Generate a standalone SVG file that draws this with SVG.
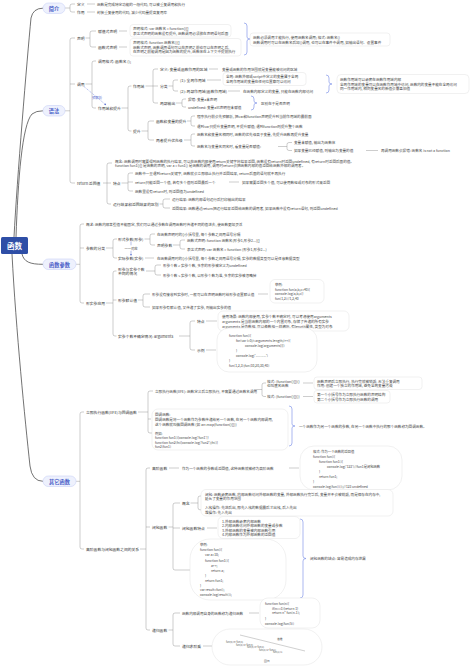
<svg xmlns="http://www.w3.org/2000/svg" width="474" height="666" viewBox="0 0 474 666">
<defs>
<style>
text{font-family:"Noto Sans CJK SC","Noto Sans",sans-serif;dominant-baseline:central}
.l{font-size:3.8px;fill:#333}
.t{font-size:3.6px;fill:#444}
.c{font-size:3.3px;fill:#444}
.s{font-size:2.4px;fill:#555}
.p{font-size:5.2px;font-weight:700;fill:#4b5fc8;text-anchor:middle}
.r{font-size:7.5px;font-weight:700;fill:#fff;text-anchor:middle}
.pill{fill:#eef1fd;stroke:#c9d2f6;stroke-width:0.6}
.ln{fill:none;stroke:#8f8f8f;stroke-width:0.45}
.rt{fill:none;stroke:#444;stroke-width:0.75}
.br{fill:none;stroke:#7288e6;stroke-width:0.6}
.bx{fill:#fff;stroke:#e0e0e0;stroke-width:0.45}
.rel{fill:none;stroke:#6b80e0;stroke-width:0.5;stroke-dasharray:1.2 0.8}
.ar{fill:none;stroke:#5a6fcf;stroke-width:0.45}
</style>
<marker id="ah" viewBox="0 0 6 6" refX="5" refY="3" markerWidth="4" markerHeight="4" orient="auto"><path d="M0 0L6 3L0 6z" fill="#5a6fcf"/></marker>
</defs>
<rect width="474" height="666" fill="#fff"/>

<g id="connectors">
<path class="rt" d="M14 237 C17 180 27 60 31 18 Q33 8.2 43 8.2"/>
<path class="rt" d="M16 237 C18 180 22 125 32 114 Q36 110.8 43 110.8"/>
<path class="rt" d="M22 254 C24 262 30 264.3 43 264.3"/>
<path class="rt" d="M12 254 C16 330 25 420 30 466 Q32 481.3 43 481.3"/>
<path class="ln" d="M65 8 H70 M75 4 H72 Q70 4 70 6 V10 Q70 12 72 12 H75 M87 4 H95 M87 12 H95"/>
<path class="ln" d="M65 110.8 H70 M75 38 H72 Q70 38 70 40 V181 Q70 183 72 183 H75 M70 84 H75"/>
<path class="ln" d="M85.5 38 H90 M96 31 H92 Q90 31 90 33 V45 Q90 47 92 47 H96 M119 31 H127 M119 47 H127"/>
<path class="br" d="M244 23 Q247 23 247 26 V37 Q247 39 250 39 Q247 39 247 41 V52 Q247 55 244 55"/>
<path class="ln" d="M85.5 84 H92 M96 61 H94 Q92 61 92 63 V106 Q92 108 94 108 H96"/>
<path class="rel" d="M84 86.5 L106 105" marker-end="url(#ah)"/>
<path class="ln" d="M121.5 108 H128 M131.5 86 H130 Q128 86 128 88 V129 Q128 131 130 131 H131.5"/>
<path class="ln" d="M145.5 86 H153 M158 69 H155 Q153 69 153 71 V101 Q153 103 155 103 H158 M153 86 H158 M209 69 H218"/>
<path class="ln" d="M168.5 86 H173 M178 80 H175 Q173 80 173 82 V89 Q173 91 175 91 H178 M207 80 H221 M228 91 H240"/>
<path class="br" d="M326 75 Q329 75 329 78 V82 Q329 84 332 84 Q329 84 329 86 V90 Q329 93 326 93"/>
<path class="ln" d="M176 103 H182 M186 99 H184 Q182 99 182 101 V105 Q182 107 184 107 H186"/>
<path class="br" d="M251 96 Q254 96 254 99 V101 Q254 103 257 103 Q254 103 254 105 V107 Q254 110 251 110"/>
<path class="ln" d="M141.5 131 H148 M154 121 H150 Q148 121 148 123 V138 Q148 140 150 140 H154"/>
<path class="ln" d="M187 121 H191 M195 116 H193 Q191 116 191 118 V124 Q191 126 193 126 H195"/>
<path class="ln" d="M184 140 H191 M195 134 H193 Q191 134 191 136 V144 Q191 146 193 146 H195"/>
<path class="ln" d="M278 146.5 H287 M292 142.5 H289 Q287 142.5 287 144.5 V148.5 Q287 150.5 289 150.5 H292 M366 150.5 H378"/>
<path class="ln" d="M103 183 H107 M112 163 H109 Q107 163 107 165 V202 Q107 204 109 204 H111 M107 183 H111"/>
<path class="ln" d="M121.5 183 H128 M133 173 H130 Q128 173 128 175 V189 Q128 191 130 191 H133 M128 182 H133 M229 182 H239"/>
<path class="ln" d="M159.5 204 H163 M170 199 H165 Q163 199 163 201 V206 Q163 208 165 208 H170"/>
<path class="ln" d="M76 264.3 H80 M84 224 H82 Q80 224 80 226 V301 Q80 303 82 303 H84 M80 248 H84"/>
<path class="ln" d="M106 248 H113 M117 239 H115 Q113 239 113 241 V256 Q113 258 115 258 H117"/>
<path class="ln" d="M144.5 239 H150 M155 234 H152 Q150 234 150 236 V243 Q150 245 152 245 H155"/>
<path class="ln" d="M173 245 H180 M185 240 H182 Q180 240 180 242 V247 Q180 249 182 249 H185 M145 258 H154"/>
<path class="ar" d="M131 241.5 V245.3 M131 250.8 V255.5" marker-end="url(#ah)"/>
<path class="ln" d="M106 303 H113 M116.5 271 H115 Q113 271 113 273 V334 Q113 336 115 336 H116.5 M113 300 H116.5"/>
<path class="ln" d="M146 271 H155 M161 265 H157 Q155 265 155 267 V273 Q155 275 157 275 H161"/>
<path class="ln" d="M138 300 H143 M150 294 H145 Q143 294 143 296 V305 Q143 307 145 307 H150 M258 294 H268"/>
<path class="ln" d="M179 336 H190 M195 321 H192 Q190 321 190 323 V348 Q190 350 192 350 H195 M206 321 H217 M206 350 H216"/>
<path class="ln" d="M76 481.3 H80 M84 412 H82 Q80 412 80 414 V547 Q80 549 82 549 H84"/>
<path class="ln" d="M138 412 H148 M153 391 H150 Q148 391 148 393 V431 Q148 433 150 433 H153 M148 419 H151"/>
<path class="ln" d="M254 389.5 H262 M266 383 H264 Q262 383 262 385 V394.5 Q262 396.5 264 396.5 H266 M303 383 H313 M303 396.5 H313"/>
<path class="br" d="M289 406 Q292 406 292 409 V424 Q292 426 295 426 Q292 426 292 428 V443 Q292 446 289 446"/>
<path class="ln" d="M140 549 H146 M150 468 H148 Q146 468 146 470 V628 Q146 630 148 630 H150 M146 527 H150"/>
<path class="ln" d="M169 468 H179 M289 468 H299"/>
<path class="ln" d="M168.5 527 H173 M180 503 H175 Q173 503 173 505 V568 Q173 570 175 570 H190 M173 528 H180"/>
<path class="ln" d="M190.5 503 H198 M203 496 H200 Q198 496 198 498 V507.8 Q198 509.8 200 509.8 H203 M207 528 H217"/>
<path class="br" d="M300 519 Q303 519 303 522 V556 Q303 558.5 306 558.5 Q303 558.5 303 561 V595 Q303 598 300 598"/>
<path class="ln" d="M168.5 630 H173 M180 613 H175 Q173 613 173 615 V644 Q173 646 175 646 H180 M249 613 H259 M203 646 H212"/>
<text x="97" y="97" text-anchor="middle" style="font-size:3.4px;fill:#5a6fcf">预解析</text>
<text x="131" y="248" text-anchor="middle" style="font-size:3.3px;fill:#333">一一对应</text>
</g>

<g id="n-root"><rect x="1" y="237" width="27" height="17" rx="1.5" fill="#2e4ea6"/><text class="r" x="14.5" y="245.5">函数</text></g>

<g id="n-jianjie"><rect class="pill" x="43" y="3" width="22" height="10.5" rx="5.25"/><text class="p" x="54" y="8.2">简介</text></g>
<g id="n-dingyi"><text class="l" x="77" y="4">定义</text><text class="t" x="97" y="4">函数是完成特定功能的一段代码, 可以被重复调用和执行</text></g>
<g id="n-zuoyong"><text class="l" x="77" y="12">作用</text><text class="t" x="97" y="12">封装重复使用的代码, 减少代码量提高复用率</text></g>

<g id="n-yufa"><rect class="pill" x="43" y="105.5" width="22" height="10.5" rx="5.25"/><text class="p" x="54" y="110.8">语法</text></g>
<g id="n-shengming"><text class="l" x="77" y="38">声明</text></g>
<g id="n-fuzhi"><text class="l" x="98" y="31">赋值式声明</text>
<rect class="bx" x="130" y="24.5" width="101" height="12.5" rx="3"/>
<text class="t" x="133" y="28.3">声明格式: var 函数名 = function(){}</text>
<text class="t" x="133" y="33.2">表达式声明的函数没有提升, 函数调用必须放在声明语句后面</text></g>
<g id="n-hanshushi"><text class="l" x="98" y="47">函数式声明</text>
<rect class="bx" x="130" y="38.5" width="111" height="17.5" rx="3"/>
<text class="t" x="133" y="42.5">声明格式: function 函数名(){}</text>
<text class="t" x="133" y="47.2">函数式声明, 函数调用语句可以在声明之前也可以在声明之后,</text>
<text class="t" x="133" y="51.9">在声明之前能调用是因为函数的提升, 函数体在上下文中提前执行</text></g>
<g id="n-shengming-note"><rect class="bx" x="250" y="33" width="140" height="13" rx="3"/>
<text class="t" x="253" y="37.1">函数必须调用才能执行, 使用函数名调用; 格式: 函数名()</text>
<text class="t" x="253" y="42">函数调用时可以在函数名后加()调用, 也可以在事件中调用, 如输出语句、设置事件</text></g>

<g id="n-diaoyong"><text class="l" x="77" y="84">调用</text></g>
<g id="n-geshi"><text class="l" x="98" y="61">调用格式: 函数名 ();</text></g>
<g id="n-zyts"><text class="l" x="98" y="108">作用域和提升</text></g>
<g id="n-zuoyongyu"><text class="l" x="133" y="86">作用域</text></g>
<g id="n-zyy-dy"><text class="l" x="160" y="69">定义: 变量或函数作用的区域</text><text class="t" x="222" y="69">变量或函数的作用范围就是变量能被访问的区域</text></g>
<g id="n-fenlei"><text class="l" x="160" y="86">分类</text></g>
<g id="n-quanju"><text class="l" x="180" y="80">(1): 全局作用域</text>
<rect class="bx" x="223" y="72.5" width="83" height="13" rx="3"/>
<text class="t" x="226" y="76.8">全局: 函数外部或script中定义的变量属于全局</text>
<text class="t" x="226" y="81.6">全局作用域的变量在任何位置都可以访问</text></g>
<g id="n-jubu"><text class="l" x="180" y="91">(2): 局部作用域(函数作用域)</text><text class="t" x="243" y="91">在函数内部定义的变量, 只能在函数内部访问</text></g>
<g id="n-fenlei-note"><rect class="bx" x="337" y="74.5" width="132" height="19" rx="4"/>
<text class="t" x="340" y="79.5">函数作用域可以嵌套在函数作用域内部</text>
<text class="t" x="340" y="84">全局作用域的变量可以在函数作用域中访问, 函数内的变量不能在全局访问</text>
<text class="t" x="340" y="88.5">同一作用域内, 相同变量名的新值会覆盖旧值</text></g>
<g id="n-jubushuchu"><text class="l" x="160" y="103">局部输出</text>
<text class="t" x="188" y="99">报错: 变量a未声明</text>
<text class="t" x="188" y="107">undefined: 变量a已声明但未赋值</text>
<text class="t" x="261" y="103">区别在于是否声明</text></g>
<g id="n-tisheng"><text class="l" x="133" y="131">提升</text></g>
<g id="n-hbts"><text class="l" x="156" y="121">函数和变量的提升</text>
<text class="t" x="197" y="116">程序执行前会先预解析, 把var和function声明提升到当前作用域的最前面</text>
<text class="t" x="197" y="126">遇到var只提升变量声明, 不提升赋值; 遇到function则提升整个函数</text></g>
<g id="n-yxj"><text class="l" x="156" y="140">两者提升优先级</text>
<text class="t" x="197" y="134">函数名和变量名相同时, 函数的优先级高于变量, 先提升函数再提升变量</text>
<text class="t" x="197" y="146.5">函数名与变量名同名时, 看变量是否赋值:</text>
<text class="t" x="294" y="142.5">变量未赋值, 输出为函数体</text>
<text class="t" x="294" y="150.5">如果变量已经赋值, 则输出为变量的值</text>
<text class="t" x="381" y="150.5">再调用函数会报错: 函数名 is not a function</text></g>

<g id="n-return"><text class="l" x="77" y="183">return 返回值</text></g>
<g id="n-ret-gn"><text class="t" x="115" y="161">概念: 函数调用时需要得到函数的执行结果, 可以在函数内部使用return关键字将结果返回, 函数没有return时返回undefined, 有return时返回后面的值。</text>
<text class="t" x="115" y="165.5">function fun1(){} 是函数的声明, var a = fun1() 是函数的调用, 调用时return会把函数内部的值返回给函数外部的调用者。</text></g>
<g id="n-ret-td"><text class="l" x="113" y="183">特点</text>
<text class="t" x="135" y="173">函数中一旦遇到return关键字, 函数就会立即停止执行并返回结果, return后面的语句就不再执行</text>
<text class="t" x="135" y="182">return只能返回一个值, 若有多个值则返回最后一个</text>
<text class="t" x="242" y="182">如果需要返回多个值, 可以使用数组或对象的形式来返回</text>
<text class="t" x="135" y="191">函数里没有return时, 则返回值为undefined</text></g>
<g id="n-ret-qb"><text class="l" x="113" y="204">运行结果和返回结果的区别</text>
<text class="t" x="172" y="199">运行结果: 函数内部语句运行后打印输出的结果</text>
<text class="t" x="172" y="208">返回结果: 函数通过return把运行结果返回给函数的调用者, 如果函数中没有return语句, 则返回undefined</text></g>

<g id="n-canshu"><rect class="pill" x="43" y="259" width="33" height="10.5" rx="5.25"/><text class="p" x="59.5" y="264.3">函数参数</text></g>
<g id="n-gaishu"><text class="t" x="86" y="224">概述: 函数内部某些值不能固定, 我们可以通过参数在调用函数时传递不同的值进去, 使函数更加灵活</text></g>
<g id="n-fenlei2"><text class="l" x="86" y="248">参数的分类</text></g>
<g id="n-xingcan"><text class="l" x="118" y="239">形式参数(形参)</text>
<text class="t" x="157" y="234">在函数声明时的()小括号里, 每个参数之间用逗号分隔</text>
<text class="l" x="157" y="245">声明参数</text>
<text class="t" x="187" y="240">函数式声明: function 函数名(形参1,形参2...){}</text>
<text class="t" x="187" y="249">表达式声明: var 函数名 = function (形参1,形参2...)</text></g>
<g id="n-shican"><text class="l" x="118" y="258">实际参数(实参)</text>
<text class="t" x="157" y="258">在函数调用时的()小括号里, 每个参数之间用逗号分隔, 实参的数据类型可以是任意数据类型</text></g>
<g id="n-yingyong"><text class="l" x="86" y="303">形实参应用</text></g>
<g id="n-geshu"><text class="l" x="118" y="269">形参与实参个数</text><text class="l" x="118" y="273.5">不同的情况</text>
<text class="t" x="163" y="265">形参个数 &gt; 实参个数, 多余的形参被定义为undefined</text>
<text class="t" x="163" y="275">形参个数 &lt; 实参个数, 以形参个数为准, 多余的实参被忽略掉</text></g>
<g id="n-moren"><text class="l" x="118" y="300">形参默认值</text>
<text class="t" x="152" y="294">形参没有接收到实参时, 一般可以在声明函数时给形参设置默认值</text>
<text class="t" x="152" y="307">如果形参有默认值, 又传递了实参, 则输出实参的值</text>
<rect class="bx" x="270" y="279.5" width="54" height="23.5" rx="5"/>
<text class="c" x="275" y="284.3">举例:</text>
<text class="c" x="275" y="289">function fun(a,b,c=40){</text>
<text class="c" x="275" y="293.7">console.log(a,b,c)}</text>
<text class="c" x="275" y="298.4">fun(1,2)//1,2,40</text></g>
<g id="n-arguments"><text class="l" x="118" y="336">实参个数不确定情况: arguments</text></g>
<g id="n-arg-td"><text class="l" x="197" y="321">特点</text>
<rect class="bx" x="218" y="311" width="131" height="20" rx="5"/>
<text class="t" x="222" y="316">使用场景: 函数内部使用, 实参个数不确定时, 可以考虑使用arguments</text>
<text class="t" x="222" y="321">arguments 是当前函数内部的一个内置对象, 存储了传递的所有实参</text>
<text class="t" x="222" y="326">arguments 是伪数组, 可以像数组一样遍历, 有length属性, 类型为对象</text></g>
<g id="n-arg-sl"><text class="l" x="197" y="350">示例</text>
<rect class="bx" x="217" y="328" width="100" height="44" rx="12"/>
<text class="c" x="229" y="335">function fun(){</text>
<text class="c" x="236" y="340">for(var i=0;i&lt;arguments.length;i++){</text>
<text class="c" x="245" y="345">console.log(arguments[i])</text>
<text class="c" x="236" y="350">}</text>
<text class="c" x="236" y="355">console.log('---------')</text>
<text class="c" x="229" y="360">}</text>
<text class="c" x="229" y="365">fun(1,2,3);fun(10,20,30,40)</text></g>

<g id="n-qita"><rect class="pill" x="43" y="476" width="33" height="10.5" rx="5.25"/><text class="p" x="59.5" y="481.3">其它函数</text></g>
<g id="n-iife"><text class="l" x="86" y="412">立即执行函数(IIFE)与回调函数</text></g>
<g id="n-iife-dy"><text class="t" x="155" y="391">立即执行函数(IIFE): 函数定义后立即执行, 不需要通过函数名调用</text>
<text class="t" x="267" y="381">格式: (function(){})()</text>
<text class="t" x="267" y="385.5">也叫匿名函数</text>
<rect class="bx" x="314" y="377" width="108" height="12.5" rx="3"/>
<text class="t" x="317" y="381">函数声明后立即执行, 执行完就被销毁, 无法重复调用</text>
<text class="t" x="317" y="385.6">作用: 创建一个独立的作用域, 避免全局变量污染</text>
<text class="t" x="267" y="396.5">格式: (function(){}())</text>
<rect class="bx" x="314" y="390.5" width="76" height="12.5" rx="3"/>
<text class="t" x="317" y="394.5">第一个小括号作为立即执行函数的声明结构</text>
<text class="t" x="317" y="399.1">第二个小括号作为立即执行函数的调用</text></g>
<g id="n-huidiao"><rect class="bx" x="152" y="409" width="136" height="41" rx="6"/>
<text class="t" x="155" y="414">回调函数:</text>
<text class="t" x="155" y="419">回调函数是将一个函数作为参数传递给另一个函数, 在另一个函数内部调用,</text>
<text class="t" x="155" y="424">这个函数就叫做回调函数 (如 arr.map(function(){}))</text>
<text class="c" x="155" y="433">例如:</text>
<text class="c" x="155" y="437.5">function fun1(){console.log('fun1')}</text>
<text class="c" x="155" y="442">function fun2(fn){console.log('fun2');fn()}</text>
<text class="c" x="155" y="446.5">fun2(fun1)</text></g>
<g id="n-huidiao-note"><text class="t" x="299" y="426">一个函数作为另一个函数的参数, 在另一个函数中执行的那个函数称为回调函数。</text></g>
<g id="n-gaojie-bibao"><text class="l" x="86" y="549">高阶函数与闭包函数之间的关系</text></g>
<g id="n-gaojie"><text class="l" x="152" y="468">高阶函数</text>
<text class="t" x="182" y="468">作为一个函数的参数或返回值, 这种函数就被称为高阶函数</text>
<rect class="bx" x="300" y="446" width="102" height="44" rx="14"/>
<text class="c" x="313" y="451">格式: 作为一个函数的返回值</text>
<text class="c" x="313" y="456">function fun(){</text>
<text class="c" x="319" y="461">function fun1(){</text>
<text class="c" x="327" y="466">console.log('123')//fun1是闭包函数</text>
<text class="c" x="319" y="471">}</text>
<text class="c" x="319" y="476">return fun1;</text>
<text class="c" x="313" y="481">}</text>
<text class="c" x="313" y="486">console.log(fun()());//123 undefined</text></g>
<g id="n-bibao"><text class="l" x="152" y="527">闭包函数</text></g>
<g id="n-bb-gn"><text class="l" x="182" y="503">概念</text>
<rect class="bx" x="201" y="489.5" width="192" height="26.5" rx="5"/>
<text class="t" x="205" y="494">闭包: 函数嵌套函数, 内部函数访问外部函数的变量, 外部函数执行完毕后, 变量并不会被销毁, 而是保存在内存中,</text>
<text class="t" x="205" y="498.5">延长了变量的作用范围</text>
<text class="t" x="205" y="507.5">入栈操作: 先进后出, 即先入栈的数据最后才出栈, 后入先出</text>
<text class="t" x="205" y="512">堆操作: 先入先出</text></g>
<g id="n-bb-td"><text class="l" x="182" y="528">闭包函数特点</text>
<rect class="bx" x="218" y="516.5" width="82" height="22" rx="5"/>
<text class="t" x="222" y="521">1.外部函数嵌套内部函数</text>
<text class="t" x="222" y="525.5">2.内部函数访问外部函数的变量或参数</text>
<text class="t" x="222" y="530">3.外部函数的变量被内部函数引用</text>
<text class="t" x="222" y="534.5">4.内部函数作为外部函数的返回值</text></g>
<g id="n-bb-qd"><text class="t" x="310" y="558.5">闭包函数的缺点: 容易造成内存泄漏</text></g>
<g id="n-bb-jl"><rect class="bx" x="190" y="539" width="96" height="61" rx="20"/>
<text class="c" x="200" y="544">举例:</text>
<text class="c" x="200" y="549">function fun(){</text>
<text class="c" x="205" y="554.5">var a=10;</text>
<text class="c" x="205" y="560">function fun1(){</text>
<text class="c" x="211" y="565.5">a++;</text>
<text class="c" x="211" y="570.5">return a;</text>
<text class="c" x="205" y="575.5">}</text>
<text class="c" x="205" y="580">return fun1;</text>
<text class="c" x="200" y="585">}</text>
<text class="c" x="200" y="589.5">var result=fun();</text>
<text class="c" x="200" y="594">console.log(result());</text></g>
<g id="n-digui"><text class="l" x="152" y="630">递归函数</text></g>
<g id="n-dg-dy"><text class="t" x="182" y="613">函数内部调用自身的函数称为递归函数</text>
<rect class="bx" x="260" y="598" width="60" height="30" rx="8"/>
<text class="c" x="265" y="603">function fun(n){</text>
<text class="c" x="272" y="608">if(n==1){return 1}</text>
<text class="c" x="272" y="612.8">return n* fun(n-1);</text>
<text class="c" x="265" y="618">}</text>
<text class="c" x="265" y="623">console.log(fun(5))</text></g>
<g id="n-dg-jc"><text class="l" x="182" y="646">递归求阶乘</text>
<rect class="bx" x="212" y="629" width="110" height="36" rx="18"/>
<path d="M240 635 L305 651" fill="none" stroke="#777" stroke-width="0.35"/>
<text class="s" x="277" y="639" style="font-size:2.8px">递推</text>
<text class="s" x="226" y="642">fun(5)=5*fun(4)</text>
<text class="s" x="236" y="644.5">fun(4)=4*fun(3)</text>
<text class="s" x="247" y="647">fun(3)=3*fun(2)</text>
<text class="s" x="259" y="649.5">fun(2)=2*fun(1)</text>
<text class="s" x="273" y="652">fun(1)=1</text>
<text class="s" x="264" y="661" style="font-size:2.8px">回归</text></g>
</svg>
